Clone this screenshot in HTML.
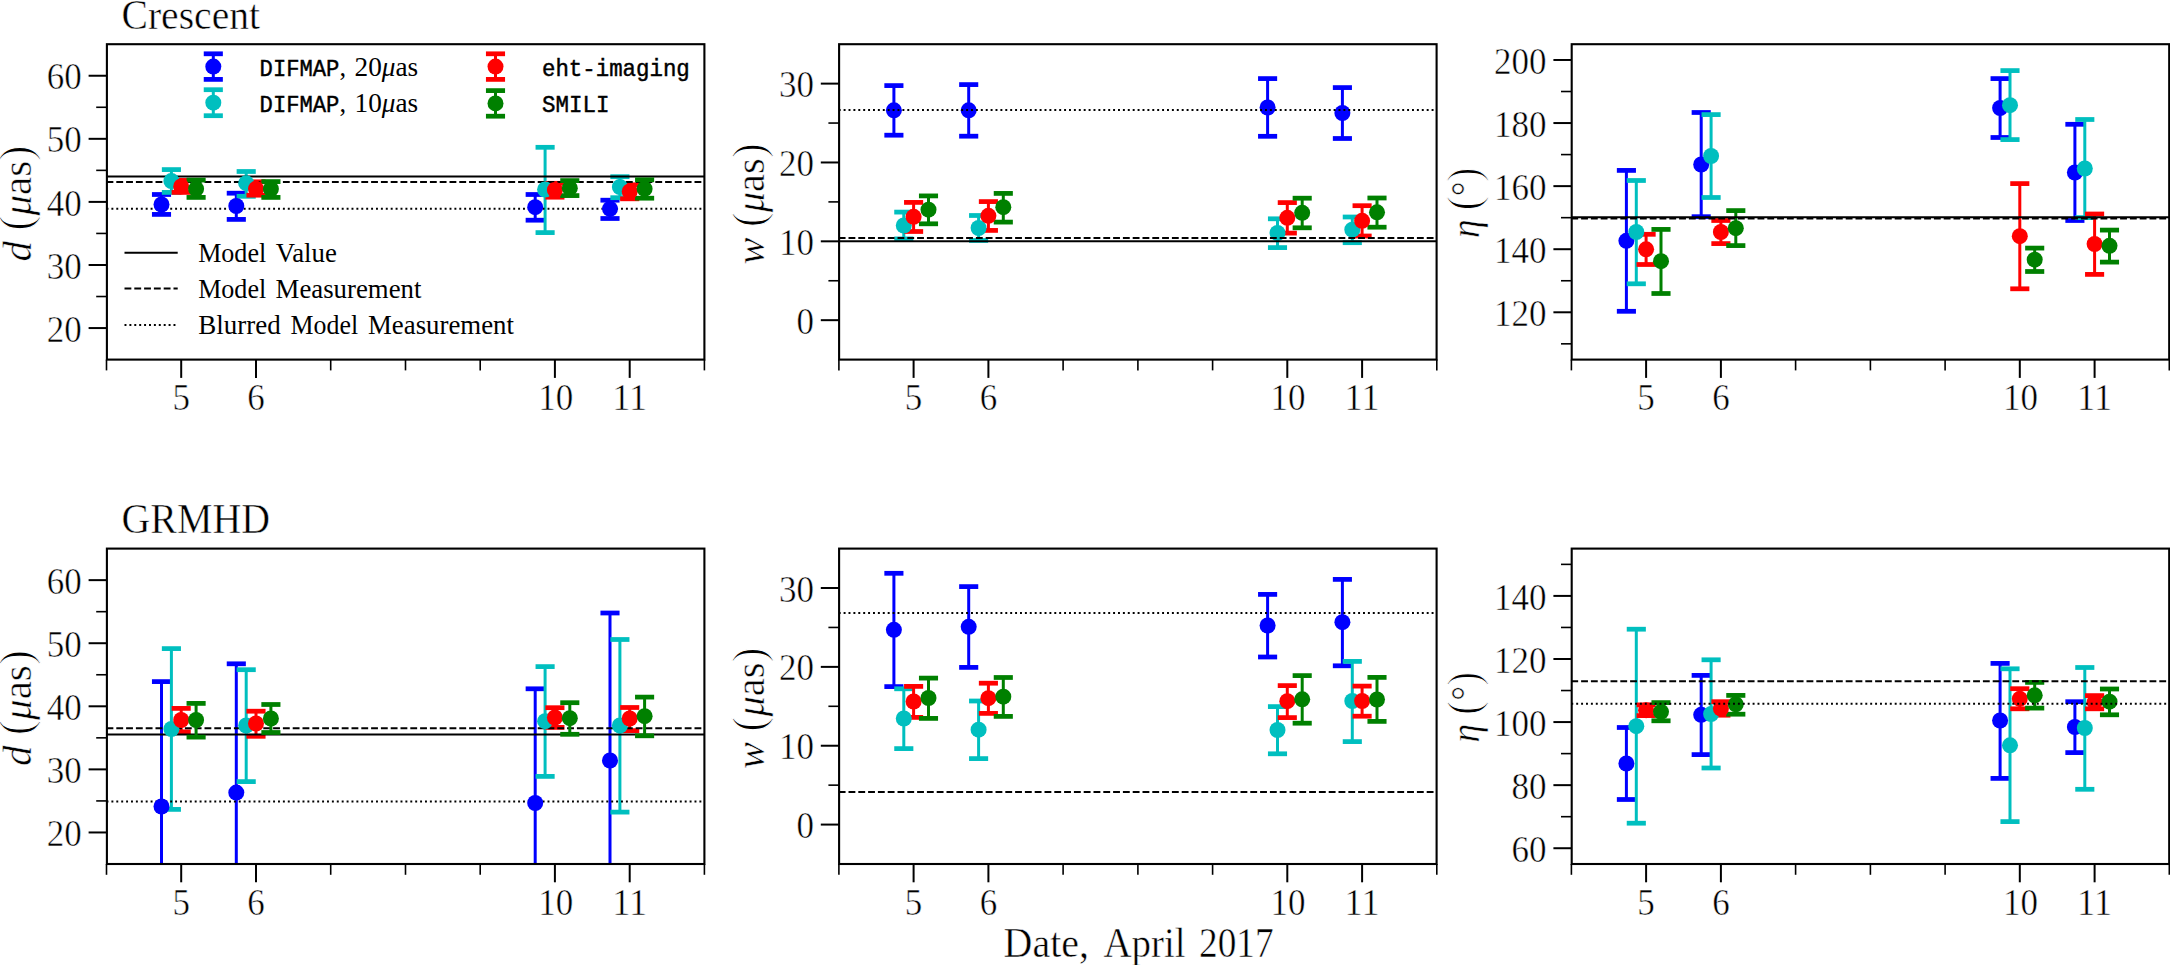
<!DOCTYPE html>
<html lang="en"><head><meta charset="utf-8"><title>Crescent and GRMHD parameter comparison</title>
<style>
html,body{margin:0;padding:0;background:#fff;}
body{width:2170px;height:965px;overflow:hidden;}
svg{display:block;}
text{font-family:"Liberation Serif","DejaVu Serif",serif;fill:#000;}
.tk{font-size:37.7px;}
.ti{font-size:42.8px;}
.yl{font-size:41px;}
.lg{font-size:26.3px;}
.tt{font-family:"Liberation Mono","DejaVu Sans Mono",monospace;font-size:23.5px;}
.it{font-style:italic;}
.pa{font-size:46px;stroke-width:1.1px;}
text{stroke:#fff;stroke-width:0.5px;}
.lg{stroke:none;}
.tt{stroke:#000;stroke-width:0.45px;}
</style></head><body>
<svg width="2170" height="965" viewBox="0 0 2170 965">
<defs>
<clipPath id="cp0"><rect x="106.9" y="44.2" width="597.5" height="315.4"/></clipPath>
<clipPath id="cp1"><rect x="839.1" y="44.2" width="597.5" height="315.4"/></clipPath>
<clipPath id="cp2"><rect x="1571.7" y="44.2" width="597.5" height="315.4"/></clipPath>
<clipPath id="cp3"><rect x="106.9" y="548.6" width="597.5" height="315.4"/></clipPath>
<clipPath id="cp4"><rect x="839.1" y="548.6" width="597.5" height="315.4"/></clipPath>
<clipPath id="cp5"><rect x="1571.7" y="548.6" width="597.5" height="315.4"/></clipPath>
</defs>
<rect width="2170" height="965" fill="#fff"/>
<g clip-path="url(#cp0)">
<line x1="161.5" y1="194.5" x2="161.5" y2="214.4" stroke="#0000ff" stroke-width="3"/>
<rect x="151.95" y="192.12" width="19.1" height="4.75" fill="#0000ff"/>
<rect x="151.95" y="212.03" width="19.1" height="4.75" fill="#0000ff"/>
<line x1="236.3" y1="193.2" x2="236.3" y2="219.4" stroke="#0000ff" stroke-width="3"/>
<rect x="226.75" y="190.82" width="19.1" height="4.75" fill="#0000ff"/>
<rect x="226.75" y="217.03" width="19.1" height="4.75" fill="#0000ff"/>
<line x1="535.2" y1="194.5" x2="535.2" y2="220.2" stroke="#0000ff" stroke-width="3"/>
<rect x="525.65" y="192.12" width="19.1" height="4.75" fill="#0000ff"/>
<rect x="525.65" y="217.82" width="19.1" height="4.75" fill="#0000ff"/>
<line x1="610" y1="200.2" x2="610" y2="218.5" stroke="#0000ff" stroke-width="3"/>
<rect x="600.45" y="197.82" width="19.1" height="4.75" fill="#0000ff"/>
<rect x="600.45" y="216.12" width="19.1" height="4.75" fill="#0000ff"/>
<line x1="171.4" y1="169.6" x2="171.4" y2="192.4" stroke="#00bfbf" stroke-width="3"/>
<rect x="161.85" y="167.22" width="19.1" height="4.75" fill="#00bfbf"/>
<rect x="161.85" y="190.03" width="19.1" height="4.75" fill="#00bfbf"/>
<line x1="246.2" y1="171.5" x2="246.2" y2="196.3" stroke="#00bfbf" stroke-width="3"/>
<rect x="236.65" y="169.12" width="19.1" height="4.75" fill="#00bfbf"/>
<rect x="236.65" y="193.93" width="19.1" height="4.75" fill="#00bfbf"/>
<line x1="545.1" y1="147.3" x2="545.1" y2="232.6" stroke="#00bfbf" stroke-width="3"/>
<rect x="535.55" y="144.93" width="19.1" height="4.75" fill="#00bfbf"/>
<rect x="535.55" y="230.22" width="19.1" height="4.75" fill="#00bfbf"/>
<line x1="619.9" y1="176.7" x2="619.9" y2="197.7" stroke="#00bfbf" stroke-width="3"/>
<rect x="610.35" y="174.32" width="19.1" height="4.75" fill="#00bfbf"/>
<rect x="610.35" y="195.32" width="19.1" height="4.75" fill="#00bfbf"/>
<line x1="181.2" y1="180.4" x2="181.2" y2="192.4" stroke="#ff0000" stroke-width="3"/>
<rect x="171.65" y="178.03" width="19.1" height="4.75" fill="#ff0000"/>
<rect x="171.65" y="190.03" width="19.1" height="4.75" fill="#ff0000"/>
<line x1="256" y1="181.8" x2="256" y2="195.2" stroke="#ff0000" stroke-width="3"/>
<rect x="246.45" y="179.43" width="19.1" height="4.75" fill="#ff0000"/>
<rect x="246.45" y="192.82" width="19.1" height="4.75" fill="#ff0000"/>
<line x1="554.9" y1="183.3" x2="554.9" y2="197.2" stroke="#ff0000" stroke-width="3"/>
<rect x="545.35" y="180.93" width="19.1" height="4.75" fill="#ff0000"/>
<rect x="545.35" y="194.82" width="19.1" height="4.75" fill="#ff0000"/>
<line x1="629.7" y1="184.8" x2="629.7" y2="198.8" stroke="#ff0000" stroke-width="3"/>
<rect x="620.15" y="182.43" width="19.1" height="4.75" fill="#ff0000"/>
<rect x="620.15" y="196.43" width="19.1" height="4.75" fill="#ff0000"/>
<line x1="106.5" y1="176.5" x2="704.4" y2="176.5" stroke="#000" stroke-width="2"/>
<line x1="106.5" y1="182" x2="704.4" y2="182" stroke="#000" stroke-width="2" stroke-dasharray="6.85 2.95"/>
<line x1="106.5" y1="208.7" x2="704.4" y2="208.7" stroke="#000" stroke-width="2" stroke-dasharray="1.95 2.95"/>
<line x1="196.1" y1="180.1" x2="196.1" y2="197.4" stroke="#008000" stroke-width="3"/>
<rect x="186.55" y="177.72" width="19.1" height="4.75" fill="#008000"/>
<rect x="186.55" y="195.03" width="19.1" height="4.75" fill="#008000"/>
<line x1="270.9" y1="181.6" x2="270.9" y2="197.4" stroke="#008000" stroke-width="3"/>
<rect x="261.35" y="179.22" width="19.1" height="4.75" fill="#008000"/>
<rect x="261.35" y="195.03" width="19.1" height="4.75" fill="#008000"/>
<line x1="569.8" y1="180.6" x2="569.8" y2="195.6" stroke="#008000" stroke-width="3"/>
<rect x="560.25" y="178.22" width="19.1" height="4.75" fill="#008000"/>
<rect x="560.25" y="193.22" width="19.1" height="4.75" fill="#008000"/>
<line x1="644.6" y1="179.8" x2="644.6" y2="198.2" stroke="#008000" stroke-width="3"/>
<rect x="635.05" y="177.43" width="19.1" height="4.75" fill="#008000"/>
<rect x="635.05" y="195.82" width="19.1" height="4.75" fill="#008000"/>
<circle cx="161.5" cy="204.5" r="8" fill="#0000ff"/>
<circle cx="236.3" cy="206" r="8" fill="#0000ff"/>
<circle cx="535.2" cy="207.2" r="8" fill="#0000ff"/>
<circle cx="610" cy="208.8" r="8" fill="#0000ff"/>
<circle cx="171.4" cy="181" r="8" fill="#00bfbf"/>
<circle cx="246.2" cy="183.2" r="8" fill="#00bfbf"/>
<circle cx="545.1" cy="189.5" r="8" fill="#00bfbf"/>
<circle cx="619.9" cy="187" r="8" fill="#00bfbf"/>
<circle cx="181.2" cy="186.5" r="8" fill="#ff0000"/>
<circle cx="256" cy="188.8" r="8" fill="#ff0000"/>
<circle cx="554.9" cy="190" r="8" fill="#ff0000"/>
<circle cx="629.7" cy="191.5" r="8" fill="#ff0000"/>
<circle cx="196.1" cy="188.8" r="8" fill="#008000"/>
<circle cx="270.9" cy="189" r="8" fill="#008000"/>
<circle cx="569.8" cy="188.2" r="8" fill="#008000"/>
<circle cx="644.6" cy="188.8" r="8" fill="#008000"/>
</g>
<rect x="106.9" y="44.2" width="597.5" height="315.4" fill="none" stroke="#000" stroke-width="2.1"/>
<line x1="181.2" y1="359.6" x2="181.2" y2="377.9" stroke="#000" stroke-width="2"/>
<line x1="256" y1="359.6" x2="256" y2="377.9" stroke="#000" stroke-width="2"/>
<line x1="554.9" y1="359.6" x2="554.9" y2="377.9" stroke="#000" stroke-width="2"/>
<line x1="629.7" y1="359.6" x2="629.7" y2="377.9" stroke="#000" stroke-width="2"/>
<line x1="106.5" y1="359.6" x2="106.5" y2="370.4" stroke="#000" stroke-width="1.6"/>
<line x1="330.7" y1="359.6" x2="330.7" y2="370.4" stroke="#000" stroke-width="1.6"/>
<line x1="405.5" y1="359.6" x2="405.5" y2="370.4" stroke="#000" stroke-width="1.6"/>
<line x1="480.2" y1="359.6" x2="480.2" y2="370.4" stroke="#000" stroke-width="1.6"/>
<line x1="704.4" y1="359.6" x2="704.4" y2="370.4" stroke="#000" stroke-width="1.6"/>
<line x1="88.6" y1="328.06" x2="106.9" y2="328.06" stroke="#000" stroke-width="2"/>
<text class="tk" x="81.7" y="341.66" text-anchor="end" textLength="35" lengthAdjust="spacingAndGlyphs">20</text>
<line x1="88.6" y1="264.98" x2="106.9" y2="264.98" stroke="#000" stroke-width="2"/>
<text class="tk" x="81.7" y="278.58" text-anchor="end" textLength="35" lengthAdjust="spacingAndGlyphs">30</text>
<line x1="88.6" y1="201.9" x2="106.9" y2="201.9" stroke="#000" stroke-width="2"/>
<text class="tk" x="81.7" y="215.5" text-anchor="end" textLength="35" lengthAdjust="spacingAndGlyphs">40</text>
<line x1="88.6" y1="138.82" x2="106.9" y2="138.82" stroke="#000" stroke-width="2"/>
<text class="tk" x="81.7" y="152.42" text-anchor="end" textLength="35" lengthAdjust="spacingAndGlyphs">50</text>
<line x1="88.6" y1="75.74" x2="106.9" y2="75.74" stroke="#000" stroke-width="2"/>
<text class="tk" x="81.7" y="89.34" text-anchor="end" textLength="35" lengthAdjust="spacingAndGlyphs">60</text>
<line x1="96.2" y1="296.52" x2="106.9" y2="296.52" stroke="#000" stroke-width="1.6"/>
<line x1="96.2" y1="233.44" x2="106.9" y2="233.44" stroke="#000" stroke-width="1.6"/>
<line x1="96.2" y1="170.36" x2="106.9" y2="170.36" stroke="#000" stroke-width="1.6"/>
<line x1="96.2" y1="107.28" x2="106.9" y2="107.28" stroke="#000" stroke-width="1.6"/>
<text class="tk" x="181.2" y="410.2" text-anchor="middle" textLength="17.5" lengthAdjust="spacingAndGlyphs">5</text>
<text class="tk" x="256" y="410.2" text-anchor="middle" textLength="17.5" lengthAdjust="spacingAndGlyphs">6</text>
<text class="tk" x="555.7" y="410.2" text-anchor="middle" textLength="35" lengthAdjust="spacingAndGlyphs">10</text>
<text class="tk" x="629.7" y="410.2" text-anchor="middle" textLength="35" lengthAdjust="spacingAndGlyphs">11</text>
<g clip-path="url(#cp1)">
<line x1="893.9" y1="85.6" x2="893.9" y2="135.2" stroke="#0000ff" stroke-width="3"/>
<rect x="884.35" y="83.22" width="19.1" height="4.75" fill="#0000ff"/>
<rect x="884.35" y="132.82" width="19.1" height="4.75" fill="#0000ff"/>
<line x1="968.7" y1="84.6" x2="968.7" y2="136.2" stroke="#0000ff" stroke-width="3"/>
<rect x="959.15" y="82.22" width="19.1" height="4.75" fill="#0000ff"/>
<rect x="959.15" y="133.82" width="19.1" height="4.75" fill="#0000ff"/>
<line x1="1267.6" y1="78.6" x2="1267.6" y2="136.3" stroke="#0000ff" stroke-width="3"/>
<rect x="1258.05" y="76.22" width="19.1" height="4.75" fill="#0000ff"/>
<rect x="1258.05" y="133.93" width="19.1" height="4.75" fill="#0000ff"/>
<line x1="1342.4" y1="87.6" x2="1342.4" y2="138.5" stroke="#0000ff" stroke-width="3"/>
<rect x="1332.85" y="85.22" width="19.1" height="4.75" fill="#0000ff"/>
<rect x="1332.85" y="136.12" width="19.1" height="4.75" fill="#0000ff"/>
<line x1="903.8" y1="212.1" x2="903.8" y2="238.9" stroke="#00bfbf" stroke-width="3"/>
<rect x="894.25" y="209.72" width="19.1" height="4.75" fill="#00bfbf"/>
<rect x="894.25" y="236.53" width="19.1" height="4.75" fill="#00bfbf"/>
<line x1="978.6" y1="215.5" x2="978.6" y2="240.5" stroke="#00bfbf" stroke-width="3"/>
<rect x="969.05" y="213.12" width="19.1" height="4.75" fill="#00bfbf"/>
<rect x="969.05" y="238.12" width="19.1" height="4.75" fill="#00bfbf"/>
<line x1="1277.5" y1="218.8" x2="1277.5" y2="247.6" stroke="#00bfbf" stroke-width="3"/>
<rect x="1267.95" y="216.43" width="19.1" height="4.75" fill="#00bfbf"/>
<rect x="1267.95" y="245.22" width="19.1" height="4.75" fill="#00bfbf"/>
<line x1="1352.3" y1="217" x2="1352.3" y2="242.7" stroke="#00bfbf" stroke-width="3"/>
<rect x="1342.75" y="214.62" width="19.1" height="4.75" fill="#00bfbf"/>
<rect x="1342.75" y="240.32" width="19.1" height="4.75" fill="#00bfbf"/>
<line x1="913.6" y1="202.4" x2="913.6" y2="231.5" stroke="#ff0000" stroke-width="3"/>
<rect x="904.05" y="200.03" width="19.1" height="4.75" fill="#ff0000"/>
<rect x="904.05" y="229.12" width="19.1" height="4.75" fill="#ff0000"/>
<line x1="988.4" y1="201.6" x2="988.4" y2="230.4" stroke="#ff0000" stroke-width="3"/>
<rect x="978.85" y="199.22" width="19.1" height="4.75" fill="#ff0000"/>
<rect x="978.85" y="228.03" width="19.1" height="4.75" fill="#ff0000"/>
<line x1="1287.3" y1="202.6" x2="1287.3" y2="233.1" stroke="#ff0000" stroke-width="3"/>
<rect x="1277.75" y="200.22" width="19.1" height="4.75" fill="#ff0000"/>
<rect x="1277.75" y="230.72" width="19.1" height="4.75" fill="#ff0000"/>
<line x1="1362.1" y1="205.7" x2="1362.1" y2="236" stroke="#ff0000" stroke-width="3"/>
<rect x="1352.55" y="203.32" width="19.1" height="4.75" fill="#ff0000"/>
<rect x="1352.55" y="233.62" width="19.1" height="4.75" fill="#ff0000"/>
<line x1="928.5" y1="195.9" x2="928.5" y2="223.8" stroke="#008000" stroke-width="3"/>
<rect x="918.95" y="193.53" width="19.1" height="4.75" fill="#008000"/>
<rect x="918.95" y="221.43" width="19.1" height="4.75" fill="#008000"/>
<line x1="1003.3" y1="193.4" x2="1003.3" y2="222.1" stroke="#008000" stroke-width="3"/>
<rect x="993.75" y="191.03" width="19.1" height="4.75" fill="#008000"/>
<rect x="993.75" y="219.72" width="19.1" height="4.75" fill="#008000"/>
<line x1="1302.2" y1="198.2" x2="1302.2" y2="227.8" stroke="#008000" stroke-width="3"/>
<rect x="1292.65" y="195.82" width="19.1" height="4.75" fill="#008000"/>
<rect x="1292.65" y="225.43" width="19.1" height="4.75" fill="#008000"/>
<line x1="1377" y1="198" x2="1377" y2="227.2" stroke="#008000" stroke-width="3"/>
<rect x="1367.45" y="195.62" width="19.1" height="4.75" fill="#008000"/>
<rect x="1367.45" y="224.82" width="19.1" height="4.75" fill="#008000"/>
<circle cx="893.9" cy="110.3" r="8" fill="#0000ff"/>
<circle cx="968.7" cy="110.3" r="8" fill="#0000ff"/>
<circle cx="1267.6" cy="107.5" r="8" fill="#0000ff"/>
<circle cx="1342.4" cy="113" r="8" fill="#0000ff"/>
<circle cx="903.8" cy="225.5" r="8" fill="#00bfbf"/>
<circle cx="978.6" cy="228" r="8" fill="#00bfbf"/>
<circle cx="1277.5" cy="233" r="8" fill="#00bfbf"/>
<circle cx="1352.3" cy="229.7" r="8" fill="#00bfbf"/>
<circle cx="913.6" cy="216.8" r="8" fill="#ff0000"/>
<circle cx="988.4" cy="215.8" r="8" fill="#ff0000"/>
<circle cx="1287.3" cy="217.8" r="8" fill="#ff0000"/>
<circle cx="1362.1" cy="220.8" r="8" fill="#ff0000"/>
<circle cx="928.5" cy="209.7" r="8" fill="#008000"/>
<circle cx="1003.3" cy="207.2" r="8" fill="#008000"/>
<circle cx="1302.2" cy="212.8" r="8" fill="#008000"/>
<circle cx="1377" cy="212.3" r="8" fill="#008000"/>
<line x1="838.7" y1="110" x2="1436.6" y2="110" stroke="#000" stroke-width="2" stroke-dasharray="1.95 2.95"/>
<line x1="838.7" y1="238" x2="1436.6" y2="238" stroke="#000" stroke-width="2" stroke-dasharray="6.85 2.95"/>
<line x1="838.7" y1="241.2" x2="1436.6" y2="241.2" stroke="#000" stroke-width="2"/>
</g>
<rect x="839.1" y="44.2" width="597.5" height="315.4" fill="none" stroke="#000" stroke-width="2.1"/>
<line x1="913.6" y1="359.6" x2="913.6" y2="377.9" stroke="#000" stroke-width="2"/>
<line x1="988.4" y1="359.6" x2="988.4" y2="377.9" stroke="#000" stroke-width="2"/>
<line x1="1287.3" y1="359.6" x2="1287.3" y2="377.9" stroke="#000" stroke-width="2"/>
<line x1="1362.1" y1="359.6" x2="1362.1" y2="377.9" stroke="#000" stroke-width="2"/>
<line x1="838.9" y1="359.6" x2="838.9" y2="370.4" stroke="#000" stroke-width="1.6"/>
<line x1="1063.1" y1="359.6" x2="1063.1" y2="370.4" stroke="#000" stroke-width="1.6"/>
<line x1="1137.9" y1="359.6" x2="1137.9" y2="370.4" stroke="#000" stroke-width="1.6"/>
<line x1="1212.6" y1="359.6" x2="1212.6" y2="370.4" stroke="#000" stroke-width="1.6"/>
<line x1="1436.8" y1="359.6" x2="1436.8" y2="370.4" stroke="#000" stroke-width="1.6"/>
<line x1="820.8" y1="320.17" x2="839.1" y2="320.17" stroke="#000" stroke-width="2"/>
<text class="tk" x="813.9" y="333.77" text-anchor="end" textLength="17.5" lengthAdjust="spacingAndGlyphs">0</text>
<line x1="820.8" y1="241.32" x2="839.1" y2="241.32" stroke="#000" stroke-width="2"/>
<text class="tk" x="813.9" y="254.92" text-anchor="end" textLength="35" lengthAdjust="spacingAndGlyphs">10</text>
<line x1="820.8" y1="162.47" x2="839.1" y2="162.47" stroke="#000" stroke-width="2"/>
<text class="tk" x="813.9" y="176.07" text-anchor="end" textLength="35" lengthAdjust="spacingAndGlyphs">20</text>
<line x1="820.8" y1="83.62" x2="839.1" y2="83.62" stroke="#000" stroke-width="2"/>
<text class="tk" x="813.9" y="97.22" text-anchor="end" textLength="35" lengthAdjust="spacingAndGlyphs">30</text>
<line x1="828.4" y1="280.75" x2="839.1" y2="280.75" stroke="#000" stroke-width="1.6"/>
<line x1="828.4" y1="201.9" x2="839.1" y2="201.9" stroke="#000" stroke-width="1.6"/>
<line x1="828.4" y1="123.05" x2="839.1" y2="123.05" stroke="#000" stroke-width="1.6"/>
<text class="tk" x="913.6" y="410.2" text-anchor="middle" textLength="17.5" lengthAdjust="spacingAndGlyphs">5</text>
<text class="tk" x="988.4" y="410.2" text-anchor="middle" textLength="17.5" lengthAdjust="spacingAndGlyphs">6</text>
<text class="tk" x="1288.1" y="410.2" text-anchor="middle" textLength="35" lengthAdjust="spacingAndGlyphs">10</text>
<text class="tk" x="1362.1" y="410.2" text-anchor="middle" textLength="35" lengthAdjust="spacingAndGlyphs">11</text>
<g clip-path="url(#cp2)">
<line x1="1626.4" y1="170.4" x2="1626.4" y2="311.3" stroke="#0000ff" stroke-width="3"/>
<rect x="1616.85" y="168.03" width="19.1" height="4.75" fill="#0000ff"/>
<rect x="1616.85" y="308.93" width="19.1" height="4.75" fill="#0000ff"/>
<line x1="1701.2" y1="112.5" x2="1701.2" y2="216.7" stroke="#0000ff" stroke-width="3"/>
<rect x="1691.65" y="110.12" width="19.1" height="4.75" fill="#0000ff"/>
<rect x="1691.65" y="214.32" width="19.1" height="4.75" fill="#0000ff"/>
<line x1="2000.1" y1="78.6" x2="2000.1" y2="137.5" stroke="#0000ff" stroke-width="3"/>
<rect x="1990.55" y="76.22" width="19.1" height="4.75" fill="#0000ff"/>
<rect x="1990.55" y="135.12" width="19.1" height="4.75" fill="#0000ff"/>
<line x1="2074.9" y1="124.3" x2="2074.9" y2="220.5" stroke="#0000ff" stroke-width="3"/>
<rect x="2065.35" y="121.92" width="19.1" height="4.75" fill="#0000ff"/>
<rect x="2065.35" y="218.12" width="19.1" height="4.75" fill="#0000ff"/>
<line x1="1636.3" y1="180.5" x2="1636.3" y2="283.8" stroke="#00bfbf" stroke-width="3"/>
<rect x="1626.75" y="178.12" width="19.1" height="4.75" fill="#00bfbf"/>
<rect x="1626.75" y="281.43" width="19.1" height="4.75" fill="#00bfbf"/>
<line x1="1711.1" y1="114.6" x2="1711.1" y2="197.5" stroke="#00bfbf" stroke-width="3"/>
<rect x="1701.55" y="112.22" width="19.1" height="4.75" fill="#00bfbf"/>
<rect x="1701.55" y="195.12" width="19.1" height="4.75" fill="#00bfbf"/>
<line x1="2010" y1="70.6" x2="2010" y2="139.6" stroke="#00bfbf" stroke-width="3"/>
<rect x="2000.45" y="68.22" width="19.1" height="4.75" fill="#00bfbf"/>
<rect x="2000.45" y="137.22" width="19.1" height="4.75" fill="#00bfbf"/>
<line x1="2084.8" y1="119.5" x2="2084.8" y2="217.6" stroke="#00bfbf" stroke-width="3"/>
<rect x="2075.25" y="117.12" width="19.1" height="4.75" fill="#00bfbf"/>
<rect x="2075.25" y="215.22" width="19.1" height="4.75" fill="#00bfbf"/>
<line x1="1646.1" y1="234.3" x2="1646.1" y2="264.5" stroke="#ff0000" stroke-width="3"/>
<rect x="1636.55" y="231.93" width="19.1" height="4.75" fill="#ff0000"/>
<rect x="1636.55" y="262.12" width="19.1" height="4.75" fill="#ff0000"/>
<line x1="1720.9" y1="220.5" x2="1720.9" y2="243.6" stroke="#ff0000" stroke-width="3"/>
<rect x="1711.35" y="218.12" width="19.1" height="4.75" fill="#ff0000"/>
<rect x="1711.35" y="241.22" width="19.1" height="4.75" fill="#ff0000"/>
<line x1="2019.8" y1="183.6" x2="2019.8" y2="288.8" stroke="#ff0000" stroke-width="3"/>
<rect x="2010.25" y="181.22" width="19.1" height="4.75" fill="#ff0000"/>
<rect x="2010.25" y="286.43" width="19.1" height="4.75" fill="#ff0000"/>
<line x1="2094.6" y1="214" x2="2094.6" y2="274.4" stroke="#ff0000" stroke-width="3"/>
<rect x="2085.05" y="211.62" width="19.1" height="4.75" fill="#ff0000"/>
<rect x="2085.05" y="272.02" width="19.1" height="4.75" fill="#ff0000"/>
<line x1="1661" y1="229.4" x2="1661" y2="293.5" stroke="#008000" stroke-width="3"/>
<rect x="1651.45" y="227.03" width="19.1" height="4.75" fill="#008000"/>
<rect x="1651.45" y="291.12" width="19.1" height="4.75" fill="#008000"/>
<line x1="1735.8" y1="210.6" x2="1735.8" y2="245.6" stroke="#008000" stroke-width="3"/>
<rect x="1726.25" y="208.22" width="19.1" height="4.75" fill="#008000"/>
<rect x="1726.25" y="243.22" width="19.1" height="4.75" fill="#008000"/>
<line x1="2034.7" y1="248.1" x2="2034.7" y2="271.5" stroke="#008000" stroke-width="3"/>
<rect x="2025.15" y="245.72" width="19.1" height="4.75" fill="#008000"/>
<rect x="2025.15" y="269.12" width="19.1" height="4.75" fill="#008000"/>
<line x1="2109.5" y1="230.1" x2="2109.5" y2="262.1" stroke="#008000" stroke-width="3"/>
<rect x="2099.95" y="227.72" width="19.1" height="4.75" fill="#008000"/>
<rect x="2099.95" y="259.73" width="19.1" height="4.75" fill="#008000"/>
<circle cx="1626.4" cy="240.8" r="8" fill="#0000ff"/>
<circle cx="1701.2" cy="164.5" r="8" fill="#0000ff"/>
<circle cx="2000.1" cy="108" r="8" fill="#0000ff"/>
<circle cx="2074.9" cy="172.5" r="8" fill="#0000ff"/>
<circle cx="1636.3" cy="232" r="8" fill="#00bfbf"/>
<circle cx="1711.1" cy="156" r="8" fill="#00bfbf"/>
<circle cx="2010" cy="105.2" r="8" fill="#00bfbf"/>
<circle cx="2084.8" cy="168.5" r="8" fill="#00bfbf"/>
<circle cx="1646.1" cy="249.3" r="8" fill="#ff0000"/>
<circle cx="1720.9" cy="232" r="8" fill="#ff0000"/>
<circle cx="2019.8" cy="236.2" r="8" fill="#ff0000"/>
<circle cx="2094.6" cy="244" r="8" fill="#ff0000"/>
<circle cx="1661" cy="261.2" r="8" fill="#008000"/>
<circle cx="1735.8" cy="228.2" r="8" fill="#008000"/>
<circle cx="2034.7" cy="259.7" r="8" fill="#008000"/>
<circle cx="2109.5" cy="245.8" r="8" fill="#008000"/>
<line x1="1571.3" y1="217.3" x2="2169.2" y2="217.3" stroke="#000" stroke-width="2"/>
<line x1="1571.3" y1="218.5" x2="2169.2" y2="218.5" stroke="#000" stroke-width="2" stroke-dasharray="6.85 2.95"/>
</g>
<rect x="1571.7" y="44.2" width="597.5" height="315.4" fill="none" stroke="#000" stroke-width="2.1"/>
<line x1="1646.1" y1="359.6" x2="1646.1" y2="377.9" stroke="#000" stroke-width="2"/>
<line x1="1720.9" y1="359.6" x2="1720.9" y2="377.9" stroke="#000" stroke-width="2"/>
<line x1="2019.8" y1="359.6" x2="2019.8" y2="377.9" stroke="#000" stroke-width="2"/>
<line x1="2094.6" y1="359.6" x2="2094.6" y2="377.9" stroke="#000" stroke-width="2"/>
<line x1="1571.4" y1="359.6" x2="1571.4" y2="370.4" stroke="#000" stroke-width="1.6"/>
<line x1="1795.6" y1="359.6" x2="1795.6" y2="370.4" stroke="#000" stroke-width="1.6"/>
<line x1="1870.4" y1="359.6" x2="1870.4" y2="370.4" stroke="#000" stroke-width="1.6"/>
<line x1="1945.1" y1="359.6" x2="1945.1" y2="370.4" stroke="#000" stroke-width="1.6"/>
<line x1="2169.3" y1="359.6" x2="2169.3" y2="370.4" stroke="#000" stroke-width="1.6"/>
<line x1="1553.4" y1="312.29" x2="1571.7" y2="312.29" stroke="#000" stroke-width="2"/>
<text class="tk" x="1546.5" y="325.89" text-anchor="end" textLength="52.5" lengthAdjust="spacingAndGlyphs">120</text>
<line x1="1553.4" y1="249.21" x2="1571.7" y2="249.21" stroke="#000" stroke-width="2"/>
<text class="tk" x="1546.5" y="262.81" text-anchor="end" textLength="52.5" lengthAdjust="spacingAndGlyphs">140</text>
<line x1="1553.4" y1="186.13" x2="1571.7" y2="186.13" stroke="#000" stroke-width="2"/>
<text class="tk" x="1546.5" y="199.73" text-anchor="end" textLength="52.5" lengthAdjust="spacingAndGlyphs">160</text>
<line x1="1553.4" y1="123.05" x2="1571.7" y2="123.05" stroke="#000" stroke-width="2"/>
<text class="tk" x="1546.5" y="136.65" text-anchor="end" textLength="52.5" lengthAdjust="spacingAndGlyphs">180</text>
<line x1="1553.4" y1="59.97" x2="1571.7" y2="59.97" stroke="#000" stroke-width="2"/>
<text class="tk" x="1546.5" y="73.57" text-anchor="end" textLength="52.5" lengthAdjust="spacingAndGlyphs">200</text>
<line x1="1561" y1="343.83" x2="1571.7" y2="343.83" stroke="#000" stroke-width="1.6"/>
<line x1="1561" y1="280.75" x2="1571.7" y2="280.75" stroke="#000" stroke-width="1.6"/>
<line x1="1561" y1="217.67" x2="1571.7" y2="217.67" stroke="#000" stroke-width="1.6"/>
<line x1="1561" y1="154.59" x2="1571.7" y2="154.59" stroke="#000" stroke-width="1.6"/>
<line x1="1561" y1="91.51" x2="1571.7" y2="91.51" stroke="#000" stroke-width="1.6"/>
<text class="tk" x="1646.1" y="410.2" text-anchor="middle" textLength="17.5" lengthAdjust="spacingAndGlyphs">5</text>
<text class="tk" x="1720.9" y="410.2" text-anchor="middle" textLength="17.5" lengthAdjust="spacingAndGlyphs">6</text>
<text class="tk" x="2020.6" y="410.2" text-anchor="middle" textLength="35" lengthAdjust="spacingAndGlyphs">10</text>
<text class="tk" x="2094.6" y="410.2" text-anchor="middle" textLength="35" lengthAdjust="spacingAndGlyphs">11</text>
<g clip-path="url(#cp3)">
<line x1="161.5" y1="681.6" x2="161.5" y2="931" stroke="#0000ff" stroke-width="3"/>
<rect x="151.95" y="679.23" width="19.1" height="4.75" fill="#0000ff"/>
<rect x="151.95" y="928.62" width="19.1" height="4.75" fill="#0000ff"/>
<line x1="236.3" y1="663.8" x2="236.3" y2="921" stroke="#0000ff" stroke-width="3"/>
<rect x="226.75" y="661.42" width="19.1" height="4.75" fill="#0000ff"/>
<rect x="226.75" y="918.62" width="19.1" height="4.75" fill="#0000ff"/>
<line x1="535.2" y1="688.8" x2="535.2" y2="917" stroke="#0000ff" stroke-width="3"/>
<rect x="525.65" y="686.42" width="19.1" height="4.75" fill="#0000ff"/>
<rect x="525.65" y="914.62" width="19.1" height="4.75" fill="#0000ff"/>
<line x1="610" y1="613" x2="610" y2="908" stroke="#0000ff" stroke-width="3"/>
<rect x="600.45" y="610.62" width="19.1" height="4.75" fill="#0000ff"/>
<rect x="600.45" y="905.62" width="19.1" height="4.75" fill="#0000ff"/>
<line x1="171.4" y1="648.6" x2="171.4" y2="809.4" stroke="#00bfbf" stroke-width="3"/>
<rect x="161.85" y="646.23" width="19.1" height="4.75" fill="#00bfbf"/>
<rect x="161.85" y="807.02" width="19.1" height="4.75" fill="#00bfbf"/>
<line x1="246.2" y1="669.7" x2="246.2" y2="781.6" stroke="#00bfbf" stroke-width="3"/>
<rect x="236.65" y="667.33" width="19.1" height="4.75" fill="#00bfbf"/>
<rect x="236.65" y="779.23" width="19.1" height="4.75" fill="#00bfbf"/>
<line x1="545.1" y1="666.6" x2="545.1" y2="776.4" stroke="#00bfbf" stroke-width="3"/>
<rect x="535.55" y="664.23" width="19.1" height="4.75" fill="#00bfbf"/>
<rect x="535.55" y="774.02" width="19.1" height="4.75" fill="#00bfbf"/>
<line x1="619.9" y1="639.5" x2="619.9" y2="812.1" stroke="#00bfbf" stroke-width="3"/>
<rect x="610.35" y="637.12" width="19.1" height="4.75" fill="#00bfbf"/>
<rect x="610.35" y="809.73" width="19.1" height="4.75" fill="#00bfbf"/>
<line x1="181.2" y1="708.4" x2="181.2" y2="731.8" stroke="#ff0000" stroke-width="3"/>
<rect x="171.65" y="706.02" width="19.1" height="4.75" fill="#ff0000"/>
<rect x="171.65" y="729.42" width="19.1" height="4.75" fill="#ff0000"/>
<line x1="256" y1="711.2" x2="256" y2="736.3" stroke="#ff0000" stroke-width="3"/>
<rect x="246.45" y="708.83" width="19.1" height="4.75" fill="#ff0000"/>
<rect x="246.45" y="733.92" width="19.1" height="4.75" fill="#ff0000"/>
<line x1="554.9" y1="707.7" x2="554.9" y2="727.4" stroke="#ff0000" stroke-width="3"/>
<rect x="545.35" y="705.33" width="19.1" height="4.75" fill="#ff0000"/>
<rect x="545.35" y="725.02" width="19.1" height="4.75" fill="#ff0000"/>
<line x1="629.7" y1="707.5" x2="629.7" y2="730.6" stroke="#ff0000" stroke-width="3"/>
<rect x="620.15" y="705.12" width="19.1" height="4.75" fill="#ff0000"/>
<rect x="620.15" y="728.23" width="19.1" height="4.75" fill="#ff0000"/>
<line x1="106.5" y1="728.2" x2="704.4" y2="728.2" stroke="#000" stroke-width="2" stroke-dasharray="6.85 2.95"/>
<line x1="106.5" y1="734.5" x2="704.4" y2="734.5" stroke="#000" stroke-width="2"/>
<line x1="106.5" y1="801.6" x2="704.4" y2="801.6" stroke="#000" stroke-width="2" stroke-dasharray="1.95 2.95"/>
<line x1="196.1" y1="703.4" x2="196.1" y2="737.1" stroke="#008000" stroke-width="3"/>
<rect x="186.55" y="701.02" width="19.1" height="4.75" fill="#008000"/>
<rect x="186.55" y="734.73" width="19.1" height="4.75" fill="#008000"/>
<line x1="270.9" y1="704.5" x2="270.9" y2="732.5" stroke="#008000" stroke-width="3"/>
<rect x="261.35" y="702.12" width="19.1" height="4.75" fill="#008000"/>
<rect x="261.35" y="730.12" width="19.1" height="4.75" fill="#008000"/>
<line x1="569.8" y1="702.7" x2="569.8" y2="734.3" stroke="#008000" stroke-width="3"/>
<rect x="560.25" y="700.33" width="19.1" height="4.75" fill="#008000"/>
<rect x="560.25" y="731.92" width="19.1" height="4.75" fill="#008000"/>
<line x1="644.6" y1="697.1" x2="644.6" y2="735.8" stroke="#008000" stroke-width="3"/>
<rect x="635.05" y="694.73" width="19.1" height="4.75" fill="#008000"/>
<rect x="635.05" y="733.42" width="19.1" height="4.75" fill="#008000"/>
<circle cx="161.5" cy="806.5" r="8" fill="#0000ff"/>
<circle cx="236.3" cy="792.6" r="8" fill="#0000ff"/>
<circle cx="535.2" cy="803" r="8" fill="#0000ff"/>
<circle cx="610" cy="760.5" r="8" fill="#0000ff"/>
<circle cx="171.4" cy="729" r="8" fill="#00bfbf"/>
<circle cx="246.2" cy="725.5" r="8" fill="#00bfbf"/>
<circle cx="545.1" cy="721.2" r="8" fill="#00bfbf"/>
<circle cx="619.9" cy="725.5" r="8" fill="#00bfbf"/>
<circle cx="181.2" cy="720" r="8" fill="#ff0000"/>
<circle cx="256" cy="723.5" r="8" fill="#ff0000"/>
<circle cx="554.9" cy="717.5" r="8" fill="#ff0000"/>
<circle cx="629.7" cy="718.5" r="8" fill="#ff0000"/>
<circle cx="196.1" cy="720" r="8" fill="#008000"/>
<circle cx="270.9" cy="718.5" r="8" fill="#008000"/>
<circle cx="569.8" cy="718.2" r="8" fill="#008000"/>
<circle cx="644.6" cy="716.2" r="8" fill="#008000"/>
</g>
<rect x="106.9" y="548.6" width="597.5" height="315.4" fill="none" stroke="#000" stroke-width="2.1"/>
<line x1="181.2" y1="864" x2="181.2" y2="882.3" stroke="#000" stroke-width="2"/>
<line x1="256" y1="864" x2="256" y2="882.3" stroke="#000" stroke-width="2"/>
<line x1="554.9" y1="864" x2="554.9" y2="882.3" stroke="#000" stroke-width="2"/>
<line x1="629.7" y1="864" x2="629.7" y2="882.3" stroke="#000" stroke-width="2"/>
<line x1="106.5" y1="864" x2="106.5" y2="874.8" stroke="#000" stroke-width="1.6"/>
<line x1="330.7" y1="864" x2="330.7" y2="874.8" stroke="#000" stroke-width="1.6"/>
<line x1="405.5" y1="864" x2="405.5" y2="874.8" stroke="#000" stroke-width="1.6"/>
<line x1="480.2" y1="864" x2="480.2" y2="874.8" stroke="#000" stroke-width="1.6"/>
<line x1="704.4" y1="864" x2="704.4" y2="874.8" stroke="#000" stroke-width="1.6"/>
<line x1="88.6" y1="832.46" x2="106.9" y2="832.46" stroke="#000" stroke-width="2"/>
<text class="tk" x="81.7" y="846.06" text-anchor="end" textLength="35" lengthAdjust="spacingAndGlyphs">20</text>
<line x1="88.6" y1="769.38" x2="106.9" y2="769.38" stroke="#000" stroke-width="2"/>
<text class="tk" x="81.7" y="782.98" text-anchor="end" textLength="35" lengthAdjust="spacingAndGlyphs">30</text>
<line x1="88.6" y1="706.3" x2="106.9" y2="706.3" stroke="#000" stroke-width="2"/>
<text class="tk" x="81.7" y="719.9" text-anchor="end" textLength="35" lengthAdjust="spacingAndGlyphs">40</text>
<line x1="88.6" y1="643.22" x2="106.9" y2="643.22" stroke="#000" stroke-width="2"/>
<text class="tk" x="81.7" y="656.82" text-anchor="end" textLength="35" lengthAdjust="spacingAndGlyphs">50</text>
<line x1="88.6" y1="580.14" x2="106.9" y2="580.14" stroke="#000" stroke-width="2"/>
<text class="tk" x="81.7" y="593.74" text-anchor="end" textLength="35" lengthAdjust="spacingAndGlyphs">60</text>
<line x1="96.2" y1="800.92" x2="106.9" y2="800.92" stroke="#000" stroke-width="1.6"/>
<line x1="96.2" y1="737.84" x2="106.9" y2="737.84" stroke="#000" stroke-width="1.6"/>
<line x1="96.2" y1="674.76" x2="106.9" y2="674.76" stroke="#000" stroke-width="1.6"/>
<line x1="96.2" y1="611.68" x2="106.9" y2="611.68" stroke="#000" stroke-width="1.6"/>
<text class="tk" x="181.2" y="914.6" text-anchor="middle" textLength="17.5" lengthAdjust="spacingAndGlyphs">5</text>
<text class="tk" x="256" y="914.6" text-anchor="middle" textLength="17.5" lengthAdjust="spacingAndGlyphs">6</text>
<text class="tk" x="555.7" y="914.6" text-anchor="middle" textLength="35" lengthAdjust="spacingAndGlyphs">10</text>
<text class="tk" x="629.7" y="914.6" text-anchor="middle" textLength="35" lengthAdjust="spacingAndGlyphs">11</text>
<g clip-path="url(#cp4)">
<line x1="893.9" y1="573.3" x2="893.9" y2="686.6" stroke="#0000ff" stroke-width="3"/>
<rect x="884.35" y="570.92" width="19.1" height="4.75" fill="#0000ff"/>
<rect x="884.35" y="684.23" width="19.1" height="4.75" fill="#0000ff"/>
<line x1="968.7" y1="586.6" x2="968.7" y2="667.4" stroke="#0000ff" stroke-width="3"/>
<rect x="959.15" y="584.23" width="19.1" height="4.75" fill="#0000ff"/>
<rect x="959.15" y="665.02" width="19.1" height="4.75" fill="#0000ff"/>
<line x1="1267.6" y1="594.4" x2="1267.6" y2="657" stroke="#0000ff" stroke-width="3"/>
<rect x="1258.05" y="592.02" width="19.1" height="4.75" fill="#0000ff"/>
<rect x="1258.05" y="654.62" width="19.1" height="4.75" fill="#0000ff"/>
<line x1="1342.4" y1="579.4" x2="1342.4" y2="665.8" stroke="#0000ff" stroke-width="3"/>
<rect x="1332.85" y="577.02" width="19.1" height="4.75" fill="#0000ff"/>
<rect x="1332.85" y="663.42" width="19.1" height="4.75" fill="#0000ff"/>
<line x1="903.8" y1="688.8" x2="903.8" y2="748.6" stroke="#00bfbf" stroke-width="3"/>
<rect x="894.25" y="686.42" width="19.1" height="4.75" fill="#00bfbf"/>
<rect x="894.25" y="746.23" width="19.1" height="4.75" fill="#00bfbf"/>
<line x1="978.6" y1="701" x2="978.6" y2="758.6" stroke="#00bfbf" stroke-width="3"/>
<rect x="969.05" y="698.62" width="19.1" height="4.75" fill="#00bfbf"/>
<rect x="969.05" y="756.23" width="19.1" height="4.75" fill="#00bfbf"/>
<line x1="1277.5" y1="706.6" x2="1277.5" y2="753.8" stroke="#00bfbf" stroke-width="3"/>
<rect x="1267.95" y="704.23" width="19.1" height="4.75" fill="#00bfbf"/>
<rect x="1267.95" y="751.42" width="19.1" height="4.75" fill="#00bfbf"/>
<line x1="1352.3" y1="661.4" x2="1352.3" y2="741.6" stroke="#00bfbf" stroke-width="3"/>
<rect x="1342.75" y="659.02" width="19.1" height="4.75" fill="#00bfbf"/>
<rect x="1342.75" y="739.23" width="19.1" height="4.75" fill="#00bfbf"/>
<line x1="913.6" y1="686.4" x2="913.6" y2="717.4" stroke="#ff0000" stroke-width="3"/>
<rect x="904.05" y="684.02" width="19.1" height="4.75" fill="#ff0000"/>
<rect x="904.05" y="715.02" width="19.1" height="4.75" fill="#ff0000"/>
<line x1="988.4" y1="683.2" x2="988.4" y2="713.4" stroke="#ff0000" stroke-width="3"/>
<rect x="978.85" y="680.83" width="19.1" height="4.75" fill="#ff0000"/>
<rect x="978.85" y="711.02" width="19.1" height="4.75" fill="#ff0000"/>
<line x1="1287.3" y1="685.6" x2="1287.3" y2="717.6" stroke="#ff0000" stroke-width="3"/>
<rect x="1277.75" y="683.23" width="19.1" height="4.75" fill="#ff0000"/>
<rect x="1277.75" y="715.23" width="19.1" height="4.75" fill="#ff0000"/>
<line x1="1362.1" y1="686.1" x2="1362.1" y2="716.2" stroke="#ff0000" stroke-width="3"/>
<rect x="1352.55" y="683.73" width="19.1" height="4.75" fill="#ff0000"/>
<rect x="1352.55" y="713.83" width="19.1" height="4.75" fill="#ff0000"/>
<line x1="928.5" y1="678.1" x2="928.5" y2="718.4" stroke="#008000" stroke-width="3"/>
<rect x="918.95" y="675.73" width="19.1" height="4.75" fill="#008000"/>
<rect x="918.95" y="716.02" width="19.1" height="4.75" fill="#008000"/>
<line x1="1003.3" y1="677.5" x2="1003.3" y2="716.4" stroke="#008000" stroke-width="3"/>
<rect x="993.75" y="675.12" width="19.1" height="4.75" fill="#008000"/>
<rect x="993.75" y="714.02" width="19.1" height="4.75" fill="#008000"/>
<line x1="1302.2" y1="675.6" x2="1302.2" y2="723.2" stroke="#008000" stroke-width="3"/>
<rect x="1292.65" y="673.23" width="19.1" height="4.75" fill="#008000"/>
<rect x="1292.65" y="720.83" width="19.1" height="4.75" fill="#008000"/>
<line x1="1377" y1="677.4" x2="1377" y2="721.4" stroke="#008000" stroke-width="3"/>
<rect x="1367.45" y="675.02" width="19.1" height="4.75" fill="#008000"/>
<rect x="1367.45" y="719.02" width="19.1" height="4.75" fill="#008000"/>
<circle cx="893.9" cy="629.8" r="8" fill="#0000ff"/>
<circle cx="968.7" cy="626.8" r="8" fill="#0000ff"/>
<circle cx="1267.6" cy="625.5" r="8" fill="#0000ff"/>
<circle cx="1342.4" cy="622.2" r="8" fill="#0000ff"/>
<circle cx="903.8" cy="718.5" r="8" fill="#00bfbf"/>
<circle cx="978.6" cy="729.7" r="8" fill="#00bfbf"/>
<circle cx="1277.5" cy="730" r="8" fill="#00bfbf"/>
<circle cx="1352.3" cy="701" r="8" fill="#00bfbf"/>
<circle cx="913.6" cy="701.5" r="8" fill="#ff0000"/>
<circle cx="988.4" cy="698.2" r="8" fill="#ff0000"/>
<circle cx="1287.3" cy="701.2" r="8" fill="#ff0000"/>
<circle cx="1362.1" cy="701" r="8" fill="#ff0000"/>
<circle cx="928.5" cy="698" r="8" fill="#008000"/>
<circle cx="1003.3" cy="696.7" r="8" fill="#008000"/>
<circle cx="1302.2" cy="699.3" r="8" fill="#008000"/>
<circle cx="1377" cy="699.5" r="8" fill="#008000"/>
<line x1="838.7" y1="613.1" x2="1436.6" y2="613.1" stroke="#000" stroke-width="2" stroke-dasharray="1.95 2.95"/>
<line x1="838.7" y1="792" x2="1436.6" y2="792" stroke="#000" stroke-width="2" stroke-dasharray="6.85 2.95"/>
</g>
<rect x="839.1" y="548.6" width="597.5" height="315.4" fill="none" stroke="#000" stroke-width="2.1"/>
<line x1="913.6" y1="864" x2="913.6" y2="882.3" stroke="#000" stroke-width="2"/>
<line x1="988.4" y1="864" x2="988.4" y2="882.3" stroke="#000" stroke-width="2"/>
<line x1="1287.3" y1="864" x2="1287.3" y2="882.3" stroke="#000" stroke-width="2"/>
<line x1="1362.1" y1="864" x2="1362.1" y2="882.3" stroke="#000" stroke-width="2"/>
<line x1="838.9" y1="864" x2="838.9" y2="874.8" stroke="#000" stroke-width="1.6"/>
<line x1="1063.1" y1="864" x2="1063.1" y2="874.8" stroke="#000" stroke-width="1.6"/>
<line x1="1137.9" y1="864" x2="1137.9" y2="874.8" stroke="#000" stroke-width="1.6"/>
<line x1="1212.6" y1="864" x2="1212.6" y2="874.8" stroke="#000" stroke-width="1.6"/>
<line x1="1436.8" y1="864" x2="1436.8" y2="874.8" stroke="#000" stroke-width="1.6"/>
<line x1="820.8" y1="824.58" x2="839.1" y2="824.58" stroke="#000" stroke-width="2"/>
<text class="tk" x="813.9" y="838.18" text-anchor="end" textLength="17.5" lengthAdjust="spacingAndGlyphs">0</text>
<line x1="820.8" y1="745.73" x2="839.1" y2="745.73" stroke="#000" stroke-width="2"/>
<text class="tk" x="813.9" y="759.33" text-anchor="end" textLength="35" lengthAdjust="spacingAndGlyphs">10</text>
<line x1="820.8" y1="666.88" x2="839.1" y2="666.88" stroke="#000" stroke-width="2"/>
<text class="tk" x="813.9" y="680.48" text-anchor="end" textLength="35" lengthAdjust="spacingAndGlyphs">20</text>
<line x1="820.8" y1="588.02" x2="839.1" y2="588.02" stroke="#000" stroke-width="2"/>
<text class="tk" x="813.9" y="601.62" text-anchor="end" textLength="35" lengthAdjust="spacingAndGlyphs">30</text>
<line x1="828.4" y1="785.15" x2="839.1" y2="785.15" stroke="#000" stroke-width="1.6"/>
<line x1="828.4" y1="706.3" x2="839.1" y2="706.3" stroke="#000" stroke-width="1.6"/>
<line x1="828.4" y1="627.45" x2="839.1" y2="627.45" stroke="#000" stroke-width="1.6"/>
<text class="tk" x="913.6" y="914.6" text-anchor="middle" textLength="17.5" lengthAdjust="spacingAndGlyphs">5</text>
<text class="tk" x="988.4" y="914.6" text-anchor="middle" textLength="17.5" lengthAdjust="spacingAndGlyphs">6</text>
<text class="tk" x="1288.1" y="914.6" text-anchor="middle" textLength="35" lengthAdjust="spacingAndGlyphs">10</text>
<text class="tk" x="1362.1" y="914.6" text-anchor="middle" textLength="35" lengthAdjust="spacingAndGlyphs">11</text>
<g clip-path="url(#cp5)">
<line x1="1626.4" y1="727.5" x2="1626.4" y2="799.5" stroke="#0000ff" stroke-width="3"/>
<rect x="1616.85" y="725.12" width="19.1" height="4.75" fill="#0000ff"/>
<rect x="1616.85" y="797.12" width="19.1" height="4.75" fill="#0000ff"/>
<line x1="1701.2" y1="675.4" x2="1701.2" y2="754.6" stroke="#0000ff" stroke-width="3"/>
<rect x="1691.65" y="673.02" width="19.1" height="4.75" fill="#0000ff"/>
<rect x="1691.65" y="752.23" width="19.1" height="4.75" fill="#0000ff"/>
<line x1="2000.1" y1="663.4" x2="2000.1" y2="778.4" stroke="#0000ff" stroke-width="3"/>
<rect x="1990.55" y="661.02" width="19.1" height="4.75" fill="#0000ff"/>
<rect x="1990.55" y="776.02" width="19.1" height="4.75" fill="#0000ff"/>
<line x1="2074.9" y1="701.7" x2="2074.9" y2="752.6" stroke="#0000ff" stroke-width="3"/>
<rect x="2065.35" y="699.33" width="19.1" height="4.75" fill="#0000ff"/>
<rect x="2065.35" y="750.23" width="19.1" height="4.75" fill="#0000ff"/>
<line x1="1636.3" y1="629.2" x2="1636.3" y2="823.2" stroke="#00bfbf" stroke-width="3"/>
<rect x="1626.75" y="626.83" width="19.1" height="4.75" fill="#00bfbf"/>
<rect x="1626.75" y="820.83" width="19.1" height="4.75" fill="#00bfbf"/>
<line x1="1711.1" y1="659.8" x2="1711.1" y2="768" stroke="#00bfbf" stroke-width="3"/>
<rect x="1701.55" y="657.42" width="19.1" height="4.75" fill="#00bfbf"/>
<rect x="1701.55" y="765.62" width="19.1" height="4.75" fill="#00bfbf"/>
<line x1="2010" y1="668.8" x2="2010" y2="821.6" stroke="#00bfbf" stroke-width="3"/>
<rect x="2000.45" y="666.42" width="19.1" height="4.75" fill="#00bfbf"/>
<rect x="2000.45" y="819.23" width="19.1" height="4.75" fill="#00bfbf"/>
<line x1="2084.8" y1="667.5" x2="2084.8" y2="789.3" stroke="#00bfbf" stroke-width="3"/>
<rect x="2075.25" y="665.12" width="19.1" height="4.75" fill="#00bfbf"/>
<rect x="2075.25" y="786.92" width="19.1" height="4.75" fill="#00bfbf"/>
<line x1="1646.1" y1="704.9" x2="1646.1" y2="715.6" stroke="#ff0000" stroke-width="3"/>
<rect x="1636.55" y="702.52" width="19.1" height="4.75" fill="#ff0000"/>
<rect x="1636.55" y="713.23" width="19.1" height="4.75" fill="#ff0000"/>
<line x1="1720.9" y1="701.7" x2="1720.9" y2="715.2" stroke="#ff0000" stroke-width="3"/>
<rect x="1711.35" y="699.33" width="19.1" height="4.75" fill="#ff0000"/>
<rect x="1711.35" y="712.83" width="19.1" height="4.75" fill="#ff0000"/>
<line x1="2019.8" y1="688.7" x2="2019.8" y2="708.8" stroke="#ff0000" stroke-width="3"/>
<rect x="2010.25" y="686.33" width="19.1" height="4.75" fill="#ff0000"/>
<rect x="2010.25" y="706.42" width="19.1" height="4.75" fill="#ff0000"/>
<line x1="2094.6" y1="695.6" x2="2094.6" y2="708.8" stroke="#ff0000" stroke-width="3"/>
<rect x="2085.05" y="693.23" width="19.1" height="4.75" fill="#ff0000"/>
<rect x="2085.05" y="706.42" width="19.1" height="4.75" fill="#ff0000"/>
<line x1="1661" y1="702.6" x2="1661" y2="720.8" stroke="#008000" stroke-width="3"/>
<rect x="1651.45" y="700.23" width="19.1" height="4.75" fill="#008000"/>
<rect x="1651.45" y="718.42" width="19.1" height="4.75" fill="#008000"/>
<line x1="1735.8" y1="695.4" x2="1735.8" y2="714.2" stroke="#008000" stroke-width="3"/>
<rect x="1726.25" y="693.02" width="19.1" height="4.75" fill="#008000"/>
<rect x="1726.25" y="711.83" width="19.1" height="4.75" fill="#008000"/>
<line x1="2034.7" y1="682.4" x2="2034.7" y2="708.1" stroke="#008000" stroke-width="3"/>
<rect x="2025.15" y="680.02" width="19.1" height="4.75" fill="#008000"/>
<rect x="2025.15" y="705.73" width="19.1" height="4.75" fill="#008000"/>
<line x1="2109.5" y1="689" x2="2109.5" y2="714.8" stroke="#008000" stroke-width="3"/>
<rect x="2099.95" y="686.62" width="19.1" height="4.75" fill="#008000"/>
<rect x="2099.95" y="712.42" width="19.1" height="4.75" fill="#008000"/>
<circle cx="1626.4" cy="763.5" r="8" fill="#0000ff"/>
<circle cx="1701.2" cy="714.8" r="8" fill="#0000ff"/>
<circle cx="2000.1" cy="720.5" r="8" fill="#0000ff"/>
<circle cx="2074.9" cy="727" r="8" fill="#0000ff"/>
<circle cx="1636.3" cy="726.2" r="8" fill="#00bfbf"/>
<circle cx="1711.1" cy="714" r="8" fill="#00bfbf"/>
<circle cx="2010" cy="745.3" r="8" fill="#00bfbf"/>
<circle cx="2084.8" cy="728" r="8" fill="#00bfbf"/>
<circle cx="1646.1" cy="710.2" r="8" fill="#ff0000"/>
<circle cx="1720.9" cy="708.5" r="8" fill="#ff0000"/>
<circle cx="2019.8" cy="698.8" r="8" fill="#ff0000"/>
<circle cx="2094.6" cy="702.2" r="8" fill="#ff0000"/>
<circle cx="1661" cy="711.8" r="8" fill="#008000"/>
<circle cx="1735.8" cy="704.3" r="8" fill="#008000"/>
<circle cx="2034.7" cy="695.3" r="8" fill="#008000"/>
<circle cx="2109.5" cy="701.7" r="8" fill="#008000"/>
<line x1="1571.3" y1="681.2" x2="2169.2" y2="681.2" stroke="#000" stroke-width="2" stroke-dasharray="6.85 2.95"/>
<line x1="1571.3" y1="703.8" x2="2169.2" y2="703.8" stroke="#000" stroke-width="2" stroke-dasharray="1.95 2.95"/>
</g>
<rect x="1571.7" y="548.6" width="597.5" height="315.4" fill="none" stroke="#000" stroke-width="2.1"/>
<line x1="1646.1" y1="864" x2="1646.1" y2="882.3" stroke="#000" stroke-width="2"/>
<line x1="1720.9" y1="864" x2="1720.9" y2="882.3" stroke="#000" stroke-width="2"/>
<line x1="2019.8" y1="864" x2="2019.8" y2="882.3" stroke="#000" stroke-width="2"/>
<line x1="2094.6" y1="864" x2="2094.6" y2="882.3" stroke="#000" stroke-width="2"/>
<line x1="1571.4" y1="864" x2="1571.4" y2="874.8" stroke="#000" stroke-width="1.6"/>
<line x1="1795.6" y1="864" x2="1795.6" y2="874.8" stroke="#000" stroke-width="1.6"/>
<line x1="1870.4" y1="864" x2="1870.4" y2="874.8" stroke="#000" stroke-width="1.6"/>
<line x1="1945.1" y1="864" x2="1945.1" y2="874.8" stroke="#000" stroke-width="1.6"/>
<line x1="2169.3" y1="864" x2="2169.3" y2="874.8" stroke="#000" stroke-width="1.6"/>
<line x1="1553.4" y1="848.23" x2="1571.7" y2="848.23" stroke="#000" stroke-width="2"/>
<text class="tk" x="1546.5" y="861.83" text-anchor="end" textLength="35" lengthAdjust="spacingAndGlyphs">60</text>
<line x1="1553.4" y1="785.15" x2="1571.7" y2="785.15" stroke="#000" stroke-width="2"/>
<text class="tk" x="1546.5" y="798.75" text-anchor="end" textLength="35" lengthAdjust="spacingAndGlyphs">80</text>
<line x1="1553.4" y1="722.07" x2="1571.7" y2="722.07" stroke="#000" stroke-width="2"/>
<text class="tk" x="1546.5" y="735.67" text-anchor="end" textLength="52.5" lengthAdjust="spacingAndGlyphs">100</text>
<line x1="1553.4" y1="658.99" x2="1571.7" y2="658.99" stroke="#000" stroke-width="2"/>
<text class="tk" x="1546.5" y="672.59" text-anchor="end" textLength="52.5" lengthAdjust="spacingAndGlyphs">120</text>
<line x1="1553.4" y1="595.91" x2="1571.7" y2="595.91" stroke="#000" stroke-width="2"/>
<text class="tk" x="1546.5" y="609.51" text-anchor="end" textLength="52.5" lengthAdjust="spacingAndGlyphs">140</text>
<line x1="1561" y1="816.69" x2="1571.7" y2="816.69" stroke="#000" stroke-width="1.6"/>
<line x1="1561" y1="753.61" x2="1571.7" y2="753.61" stroke="#000" stroke-width="1.6"/>
<line x1="1561" y1="690.53" x2="1571.7" y2="690.53" stroke="#000" stroke-width="1.6"/>
<line x1="1561" y1="627.45" x2="1571.7" y2="627.45" stroke="#000" stroke-width="1.6"/>
<line x1="1561" y1="564.37" x2="1571.7" y2="564.37" stroke="#000" stroke-width="1.6"/>
<text class="tk" x="1646.1" y="914.6" text-anchor="middle" textLength="17.5" lengthAdjust="spacingAndGlyphs">5</text>
<text class="tk" x="1720.9" y="914.6" text-anchor="middle" textLength="17.5" lengthAdjust="spacingAndGlyphs">6</text>
<text class="tk" x="2020.6" y="914.6" text-anchor="middle" textLength="35" lengthAdjust="spacingAndGlyphs">10</text>
<text class="tk" x="2094.6" y="914.6" text-anchor="middle" textLength="35" lengthAdjust="spacingAndGlyphs">11</text>
<text class="ti" x="121.5" y="28.5" textLength="138.5" lengthAdjust="spacingAndGlyphs">Crescent</text>
<text class="ti" x="121.5" y="533" textLength="148.5" lengthAdjust="spacingAndGlyphs">GRMHD</text>
<text class="ti" x="1003.6" y="957" textLength="85.4" lengthAdjust="spacingAndGlyphs">Date,</text>
<text class="ti" x="1103.4" y="957" textLength="82.1" lengthAdjust="spacingAndGlyphs">April</text>
<text class="ti" x="1199" y="957" textLength="74.6" lengthAdjust="spacingAndGlyphs">2017</text>
<text class="yl" transform="translate(31,261.5) rotate(-90)" textLength="116" lengthAdjust="spacingAndGlyphs"><tspan class="it">d</tspan> <tspan class="pa">(</tspan><tspan class="it">μ</tspan>as<tspan class="pa">)</tspan></text>
<text class="yl" transform="translate(764.2,264.5) rotate(-90)" textLength="121.5" lengthAdjust="spacingAndGlyphs"><tspan class="it">w</tspan> <tspan class="pa">(</tspan><tspan class="it">μ</tspan>as<tspan class="pa">)</tspan></text>
<text class="yl" transform="translate(1478.7,238) rotate(-90)" textLength="70.5" lengthAdjust="spacingAndGlyphs"><tspan class="it">η</tspan> <tspan class="pa">(</tspan>°<tspan class="pa">)</tspan></text>
<text class="yl" transform="translate(31,765.9) rotate(-90)" textLength="116" lengthAdjust="spacingAndGlyphs"><tspan class="it">d</tspan> <tspan class="pa">(</tspan><tspan class="it">μ</tspan>as<tspan class="pa">)</tspan></text>
<text class="yl" transform="translate(764.2,768.9) rotate(-90)" textLength="121.5" lengthAdjust="spacingAndGlyphs"><tspan class="it">w</tspan> <tspan class="pa">(</tspan><tspan class="it">μ</tspan>as<tspan class="pa">)</tspan></text>
<text class="yl" transform="translate(1478.7,742.4) rotate(-90)" textLength="70.5" lengthAdjust="spacingAndGlyphs"><tspan class="it">η</tspan> <tspan class="pa">(</tspan>°<tspan class="pa">)</tspan></text>
<line x1="213.3" y1="53.8" x2="213.3" y2="79.4" stroke="#0000ff" stroke-width="3"/>
<rect x="203.75" y="51.42" width="19.1" height="4.75" fill="#0000ff"/>
<rect x="203.75" y="77.02" width="19.1" height="4.75" fill="#0000ff"/>
<circle cx="213.3" cy="66.6" r="8" fill="#0000ff"/>
<line x1="213.3" y1="89.7" x2="213.3" y2="115.7" stroke="#00bfbf" stroke-width="3"/>
<rect x="203.75" y="87.33" width="19.1" height="4.75" fill="#00bfbf"/>
<rect x="203.75" y="113.33" width="19.1" height="4.75" fill="#00bfbf"/>
<circle cx="213.3" cy="102.7" r="8" fill="#00bfbf"/>
<line x1="495.5" y1="53.8" x2="495.5" y2="79.4" stroke="#ff0000" stroke-width="3"/>
<rect x="485.95" y="51.42" width="19.1" height="4.75" fill="#ff0000"/>
<rect x="485.95" y="77.02" width="19.1" height="4.75" fill="#ff0000"/>
<circle cx="495.5" cy="66.6" r="8" fill="#ff0000"/>
<line x1="495.5" y1="90.6" x2="495.5" y2="116.2" stroke="#008000" stroke-width="3"/>
<rect x="485.95" y="88.23" width="19.1" height="4.75" fill="#008000"/>
<rect x="485.95" y="113.83" width="19.1" height="4.75" fill="#008000"/>
<circle cx="495.5" cy="103.4" r="8" fill="#008000"/>
<text class="tt" x="259.6" y="75.8" textLength="79.8" lengthAdjust="spacingAndGlyphs">DIFMAP</text>
<text class="lg" x="339.5" y="75.8">,</text><text class="lg" x="354.6" y="75.8" textLength="63.6" lengthAdjust="spacingAndGlyphs">20<tspan class="it">μ</tspan>as</text>
<text class="tt" x="259.6" y="111.9" textLength="79.8" lengthAdjust="spacingAndGlyphs">DIFMAP</text>
<text class="lg" x="339.5" y="111.9">,</text><text class="lg" x="354.6" y="111.9" textLength="63.6" lengthAdjust="spacingAndGlyphs">10<tspan class="it">μ</tspan>as</text>
<text class="tt" x="542" y="75.6" textLength="147.8" lengthAdjust="spacingAndGlyphs">eht-imaging</text>
<text class="tt" x="542" y="112.1" textLength="67.5" lengthAdjust="spacingAndGlyphs">SMILI</text>
<line x1="124.5" y1="252.7" x2="177.7" y2="252.7" stroke="#000" stroke-width="2"/>
<line x1="124.5" y1="288.6" x2="177.7" y2="288.6" stroke="#000" stroke-width="2" stroke-dasharray="6.85 2.95"/>
<line x1="124.5" y1="324.9" x2="177.7" y2="324.9" stroke="#000" stroke-width="2" stroke-dasharray="1.95 2.95"/>
<text class="lg" x="198.2" y="261.8" textLength="68" lengthAdjust="spacingAndGlyphs">Model</text>
<text class="lg" x="275.8" y="261.8" textLength="61" lengthAdjust="spacingAndGlyphs">Value</text>
<text class="lg" x="198.2" y="298.1" textLength="68" lengthAdjust="spacingAndGlyphs">Model</text>
<text class="lg" x="275.6" y="298.1" textLength="145.8" lengthAdjust="spacingAndGlyphs">Measurement</text>
<text class="lg" x="198.2" y="334.3" textLength="82.5" lengthAdjust="spacingAndGlyphs">Blurred</text>
<text class="lg" x="290.6" y="334.3" textLength="67.5" lengthAdjust="spacingAndGlyphs">Model</text>
<text class="lg" x="368" y="334.3" textLength="145.9" lengthAdjust="spacingAndGlyphs">Measurement</text>
</svg>
</body></html>
